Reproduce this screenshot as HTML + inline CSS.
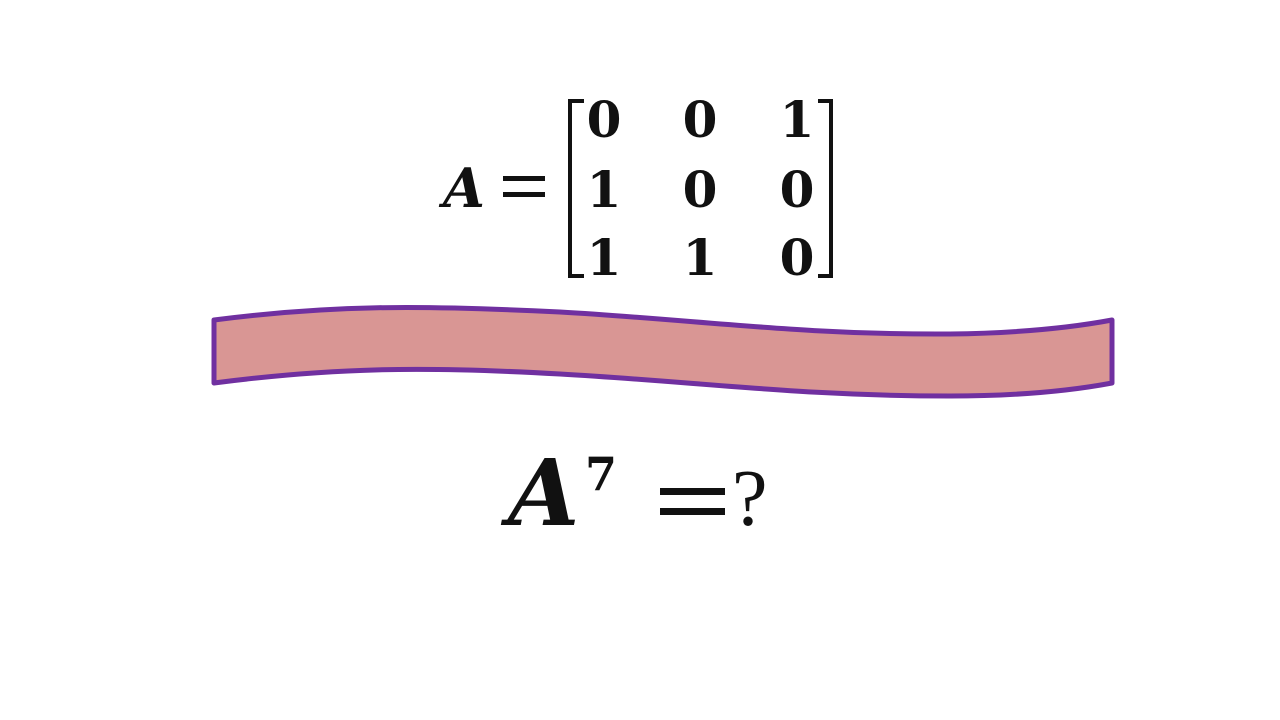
<!DOCTYPE html>
<html><head><meta charset="utf-8"><style>
html,body{margin:0;padding:0;background:#fff;width:1280px;height:720px;overflow:hidden}
</style></head><body>
<svg width="1280" height="720" viewBox="0 0 1280 720" xmlns="http://www.w3.org/2000/svg">
<g font-family="'DejaVu Serif', serif" font-weight="bold" fill="#111" font-size="50" text-anchor="middle">
<text x="443" y="207" font-size="54" font-style="italic" text-anchor="start">A</text>
<text x="604" y="137">0</text>
<text x="700" y="137">0</text>
<text x="797" y="137">1</text>
<text x="604" y="207">1</text>
<text x="700" y="207">0</text>
<text x="797" y="207">0</text>
<text x="604" y="275">1</text>
<text x="700" y="275">1</text>
<text x="797" y="275">0</text>
</g>
<rect x="503" y="176" width="42" height="5" fill="#111"/>
<rect x="503" y="192" width="42" height="5" fill="#111"/>
<path d="M584 101 H570 V276 H584" fill="none" stroke="#111" stroke-width="4"/>
<path d="M818 101 H831 V276 H818" fill="none" stroke="#111" stroke-width="4"/>
<path d="M214 320 C330 305 420 305 560 312 C700 320 800 335 950 334 C1030 333 1080 326 1112 320 L1112 383 C1080 389 1030 396 950 396 C800 396 700 382 560 374 C420 366 330 368 214 383 Z" fill="#d99694" stroke="#7030a0" stroke-width="5" stroke-linejoin="round"/>
<g font-family="'DejaVu Serif', serif" font-weight="bold" fill="#111">
<text x="508" y="525" font-size="92" font-style="italic">A</text>
<text x="585" y="490" font-size="46">7</text>
<text x="732" y="525" font-size="80" font-family="'Liberation Serif', serif" font-weight="normal">?</text>
</g>
<rect x="660" y="488" width="65" height="7" fill="#111"/>
<rect x="660" y="508" width="65" height="7" fill="#111"/>
</svg>
</body></html>
